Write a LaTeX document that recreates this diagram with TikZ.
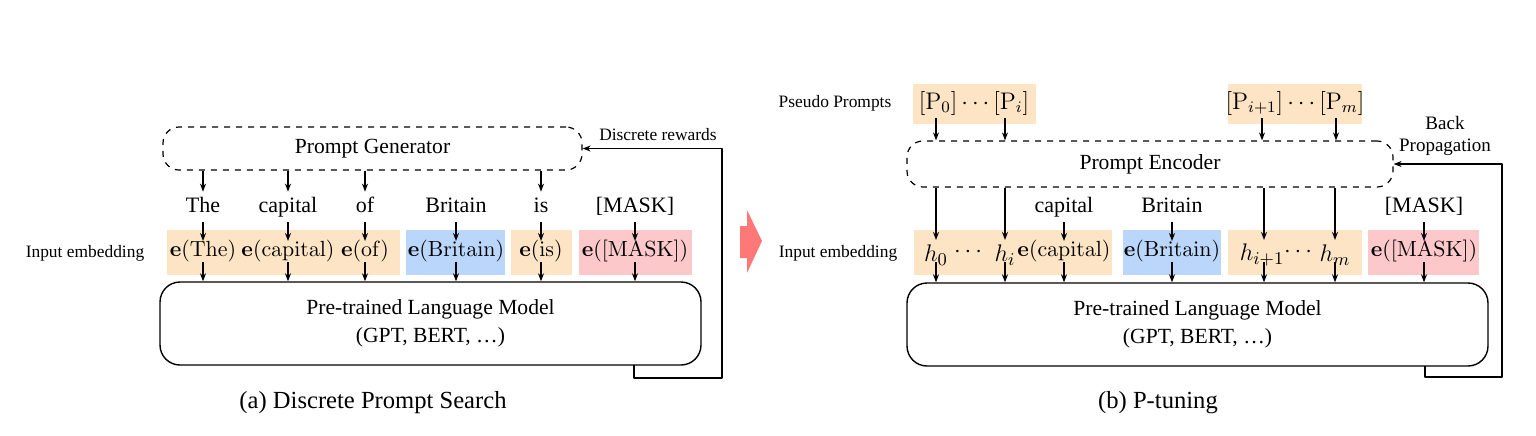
\documentclass[tikz,border=0pt]{standalone}
\usepackage{amsmath}
\usepackage[no-math]{fontspec}
\setmainfont{Liberation Serif}
\usepackage{xcolor}
\usetikzlibrary{arrows.meta,positioning,calc}
\definecolor{embOrange}{RGB}{253,228,196}
\definecolor{embBlue}{RGB}{186,214,250}
\definecolor{embPink}{RGB}{252,200,202}
\definecolor{bigArrow}{RGB}{255,120,120}
\tikzset{
  arr/.style={-{Stealth[length=4pt,width=3pt]}, line width=0.6pt},
  gen/.style={draw, dashed, rounded corners=8pt, line width=0.6pt},
  plm/.style={draw, rounded corners=10pt, line width=0.7pt},
  word/.style={font=\fontsize{11}{13}\selectfont, inner sep=1pt},
  emb/.style={font=\fontsize{10.5}{12}\selectfont, inner sep=1pt},
  hid/.style={font=\fontsize{12.5}{14}\selectfont, inner sep=1pt},
  lab/.style={font=\fontsize{8.7}{10.5}\selectfont, align=center},
  big/.style={font=\fontsize{10.8}{14}\selectfont, align=center},
}
\begin{document}
\begin{tikzpicture}[x=0.5pt, y=-0.5pt, line join=round]
\useasboundingbox (0,0) rectangle (1536,435);
% ---------- (a) Discrete Prompt Search ----------
\fill[embOrange] (167,230) rectangle (400,275);
\fill[embBlue] (406,230) rectangle (505,275);
\fill[embOrange] (511,230) rectangle (572,275);
\fill[embPink] (579,230) rectangle (692,275);
\node[gen, minimum width=209.5pt, minimum height=21.5pt] (pg) at (372.5,148.5) {};
\node[big] at (pg) {Prompt Generator};
\node[plm, minimum width=270.5pt, minimum height=41.5pt] (lma) at (430.5,323.5) {};
\node[big] at (lma) {Pre-trained Language Model\\(GPT, BERT, \ldots)};
\foreach \name/\x/\w/\e in {the/203/The/{$\mathbf{e}(\mathrm{The})$},
    cap/288/capital/{$\mathbf{e}(\mathrm{capital})$},
    of/365/of/{$\mathbf{e}(\mathrm{of})$},
    bri/456/Britain/{$\mathbf{e}(\mathrm{Britain})$},
    is/541/is/{$\mathbf{e}(\mathrm{is})$},
    mask/635/{[MASK]}/{$\mathbf{e}([\mathrm{MASK}])$}}{
  \node[word] (w\name) at (\x,207) {\strut\w};
  \node[emb] (e\name) at (\x,251) {\e};
  \draw[arr] (w\name.south) -- (e\name.center |- 0,241);
  \draw[arr] (e\name.center |- 0,262) -- (e\name.center |- lma.north);
}
\foreach \name in {the,cap,of,is}
  \draw[arr] (w\name.center |- pg.south) -- (w\name.north);
\node[lab] (inemba) at (85,253) {Input embedding};
% feedback
\coordinate (fa1) at (634,378);
\coordinate (fa2) at (722,378);
\draw[arr] (634,365) -- (fa1) -- (fa2) -- (fa2 |- pg.east) -- (pg.east);
\node[lab] (rew) at (658,135) {Discrete rewards};
\node[font=\fontsize{12.3}{14}\selectfont] (capa) at (373,403) {(a) Discrete Prompt Search};
% big arrow
\fill[bigArrow] (740,226) -- (747,226) -- (747,210) -- (762,241) -- (747,273) -- (747,258) -- (740,258) -- cycle;
% ---------- (b) P-tuning ----------
\fill[embOrange] (913,84) rectangle (1036,124);
\fill[embOrange] (1228,84) rectangle (1362,124);
\fill[embOrange] (914,230) rectangle (1112,275);
\fill[embBlue] (1123,230) rectangle (1221,275);
\fill[embOrange] (1228,230) rectangle (1362,275);
\fill[embPink] (1368,230) rectangle (1479,275);
\node[gen, minimum width=243pt, minimum height=23pt] (pe) at (1150,164) {};
\node[big] at (pe) {Prompt Encoder};
\node[plm, minimum width=290.5pt, minimum height=41.5pt] (lmb) at (1197.5,324.5) {};
\node[big] at (lmb) {Pre-trained Language Model\\(GPT, BERT, \ldots)};
\node[emb, font=\fontsize{11.5}{13}\selectfont] (p0) at (974,103) {$[\mathrm{P}_0]\cdots[\mathrm{P}_i]$};
\node[emb, font=\fontsize{11.5}{13}\selectfont] (pm) at (1295,103) {$[\mathrm{P}_{i+1}]\cdots[\mathrm{P}_m]$};
\node[lab] (pseudo) at (835,103) {Pseudo Prompts};
\foreach \x in {936,1005,1262,1336}
  \draw[arr] (\x,118) -- (\x,0 |- pe.north);
% hidden states
\node[hid] (h0) at (936,255) {$h_0$};
\node[hid] (hd) at (970,252) {$\cdots$};
\node[hid] (hi) at (1005,255) {$h_i$};
\node[hid] (hj) at (1262,255) {$h_{i+1}$};
\node[hid] (hd2) at (1300,252) {$\cdots$};
\node[hid] (hm) at (1335,255) {$h_m$};
\foreach \h/\x in {h0/936,hi/1005,hj/1264,hm/1335}{
  \draw[arr] (\x,0 |- pe.south) -- (\x,240);
  \draw[arr] (\x,262) -- (\x,0 |- lmb.north);
}
\foreach \name/\x/\w/\e in {bcap/1064/capital/{$\mathbf{e}(\mathrm{capital})$},
    bbri/1172/Britain/{$\mathbf{e}(\mathrm{Britain})$},
    bmask/1424/{[MASK]}/{$\mathbf{e}([\mathrm{MASK}])$}}{
  \node[word] (w\name) at (\x,207) {\strut\w};
  \node[emb] (e\name) at (\x,251) {\e};
  \draw[arr] (w\name.south) -- (e\name.center |- 0,241);
  \draw[arr] (e\name.center |- 0,262) -- (e\name.center |- lmb.north);
}
\node[lab] (inembb) at (838,253) {Input embedding};
\coordinate (fb1) at (1425,377);
\coordinate (fb2) at (1502,377);
\draw[arr] (1425,366) -- (fb1) -- (fb2) -- (fb2 |- pe.east) -- (pe.east);
\node[lab, font=\fontsize{9.5}{11}\selectfont] (bp) at (1445,136) {Back\\Propagation};
\node[font=\fontsize{12.3}{14}\selectfont] (capb) at (1158,403) {(b) P-tuning};
\end{tikzpicture}
\end{document}
